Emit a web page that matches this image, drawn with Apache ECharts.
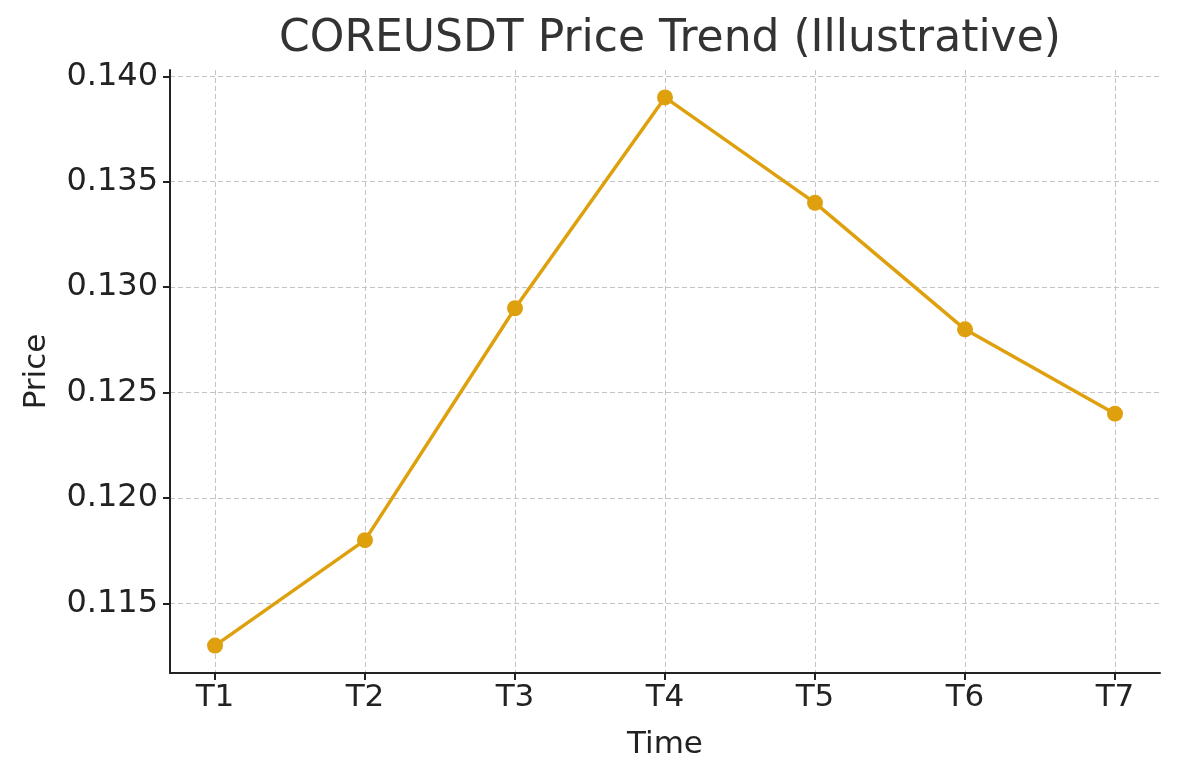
<!DOCTYPE html>
<html>
<head>
<meta charset="utf-8">
<script src="https://cdn.jsdelivr.net/npm/echarts@6/dist/echarts.min.js"></script>
<style>
  html, body { margin: 0; padding: 0; background: #fff; }
  #chart { width: 1180px; height: 780px; }
</style>
</head>
<body>
<div id="chart"></div>
<script>
const categories = ['T1', 'T2', 'T3', 'T4', 'T5', 'T6', 'T7']
const prices = [0.113, 0.118, 0.129, 0.139, 0.134, 0.128, 0.124]
const yTicks = [0.115, 0.120, 0.125, 0.130, 0.135, 0.140]

const font = 'DejaVu Sans'
const lineColor = '#DFA00E'
const axisColor = '#222'

const myChart = echarts.init(document.getElementById('chart'))

const option = {
  backgroundColor: '#fff',
  animation: false,
  title: {
    text: 'COREUSDT Price Trend (Illustrative)',
    left: 665,
    textAlign: 'center',
    top: 13,
    textStyle: { fontFamily: font, fontSize: 44, fontWeight: 'normal', color: '#333' }
  },
  grid: { left: 170, right: 20, top: 70, bottom: 107 },
  xAxis: {
    type: 'value',
    min: -0.3,
    max: 6.3,
    name: 'Time',
    nameLocation: 'middle',
    nameGap: 56,
    nameTextStyle: { fontFamily: font, fontSize: 31, color: '#222' },
    axisLine: { onZero: false, lineStyle: { color: axisColor, width: 2 } },
    axisTick: { show: true, length: 7, lineStyle: { color: axisColor, width: 2 }, customValues: categories.map((c, i) => i) },
    axisLabel: {
      customValues: categories.map((c, i) => i),
      formatter: v => categories[Math.round(v)],
      fontFamily: font, fontSize: 31, color: '#222', margin: 9
    },
    splitLine: { show: true, lineStyle: { color: '#c4c4c4', type: [5, 3], width: 1 } }
  },
  yAxis: {
    type: 'value',
    min: 0.1117,
    max: 0.1403,
    name: 'Price',
    nameLocation: 'middle',
    nameGap: 118,
    nameTextStyle: { fontFamily: font, fontSize: 31, color: '#222' },
    axisLine: { show: true, onZero: false, lineStyle: { color: axisColor, width: 2 } },
    axisTick: { show: true, length: 7, lineStyle: { color: axisColor, width: 2 }, customValues: yTicks },
    axisLabel: {
      customValues: yTicks,
      formatter: v => v.toFixed(3),
      fontFamily: font, fontSize: 32, color: '#222', margin: 12
    },
    splitLine: { show: true, lineStyle: { color: '#c4c4c4', type: [5, 3], width: 1 } }
  },
  series: [
    {
      type: 'line',
      data: prices.map((p, i) => [i, p]),
      symbol: 'circle',
      symbolSize: 16,
      lineStyle: { color: lineColor, width: 3.5 },
      itemStyle: { color: lineColor }
    }
  ]
}

option && myChart.setOption(option)
</script>
</body>
</html>
